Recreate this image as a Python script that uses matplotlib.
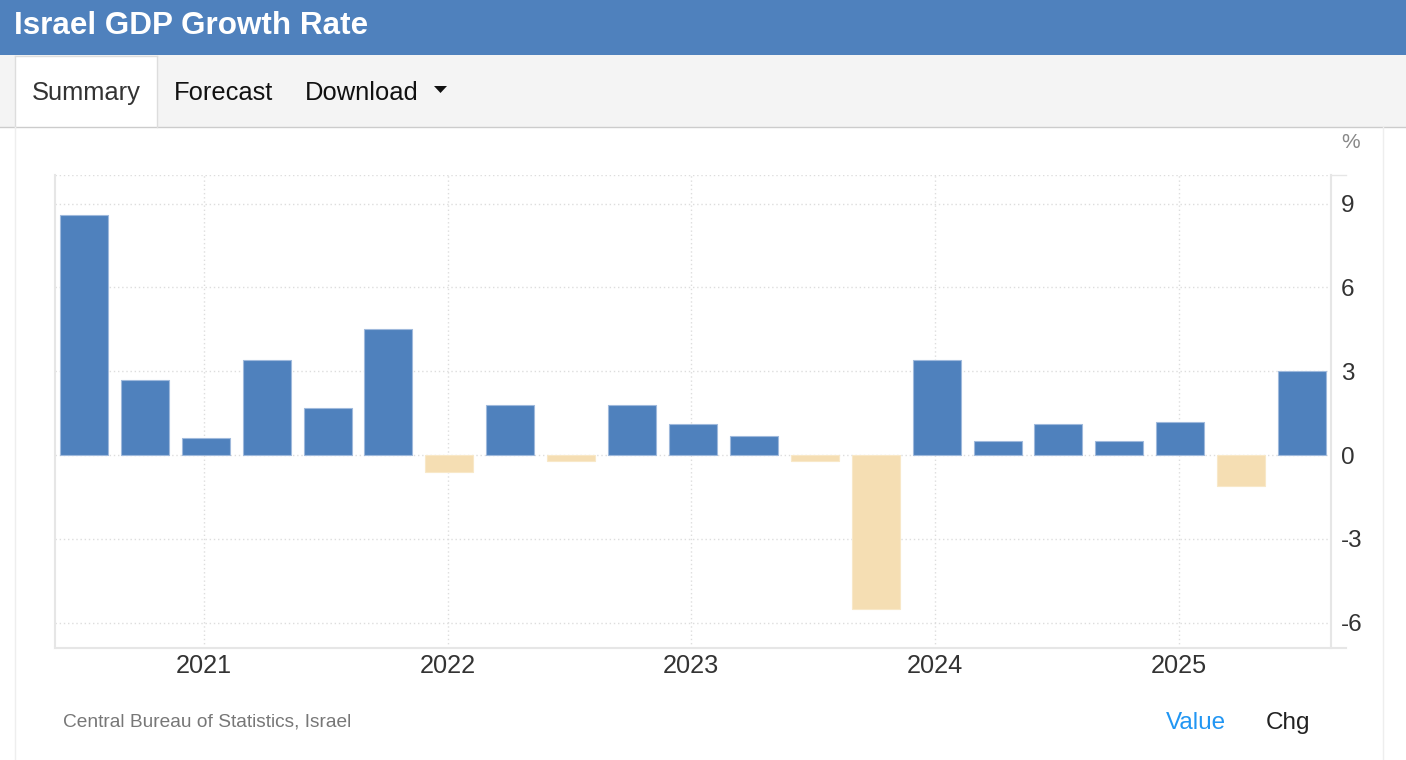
import matplotlib.pyplot as plt
from matplotlib.patches import Rectangle, Polygon
from matplotlib.lines import Line2D

plt.rcParams['font.family'] = ['Liberation Sans', 'DejaVu Sans']
plt.rcParams['axes.unicode_minus'] = False

# data: quarterly GDP growth rate (%), annualized q/q
years = [2020, 2020, 2021, 2021, 2021, 2021, 2022, 2022, 2022, 2022,
         2023, 2023, 2023, 2023, 2024, 2024, 2024, 2024, 2025, 2025, 2025]
quarters = [3, 4, 1, 2, 3, 4, 1, 2, 3, 4, 1, 2, 3, 4, 1, 2, 3, 4, 1, 2, 3]
values = [8.6, 2.7, 0.6, 3.4, 1.7, 4.5, -0.6, 1.8, -0.2, 1.8, 1.1,
          0.7, -0.2, -5.5, 3.4, 0.5, 1.1, 0.5, 1.2, -1.1, 3.0]
year_ticks = [2021, 2022, 2023, 2024, 2025]
y_ticks = [-6, -3, 0, 3, 6, 9]

W, H = 1406, 760
fig = plt.figure(figsize=(W / 100, H / 100), dpi=100)
fig.patch.set_facecolor('white')


def px(x, y):
    # pixel coords (top-left origin) -> figure fraction
    return x / W, 1 - y / H


def rect(x0, y0, x1, y1, **kw):
    fig.patches.append(Rectangle((x0 / W, 1 - y1 / H), (x1 - x0) / W, (y1 - y0) / H,
                                 transform=fig.transFigure, **kw))


def hline(x0, x1, y, color, lw=1):
    fig.lines.append(Line2D([x0 / W, x1 / W], [1 - y / H, 1 - y / H],
                            transform=fig.transFigure, color=color, lw=lw))


def vline(x, y0, y1, color, lw=1):
    fig.lines.append(Line2D([x / W, x / W], [1 - y0 / H, 1 - y1 / H],
                            transform=fig.transFigure, color=color, lw=lw))


# header bar
rect(0, 0, W, 55, facecolor='#4f81bd', edgecolor='none')
fig.text(*px(14, 26), 'Israel GDP Growth Rate', color='white', fontsize=22.6,
         fontweight='bold', va='center', ha='left')

# tab strip
rect(0, 55, W, 127, facecolor='#f4f4f4', edgecolor='none')
hline(0, W, 126.5, '#cccccc')
rect(15, 56, 157, 127.5, facecolor='white', edgecolor='none')
vline(15, 56, 127, '#dddddd')
vline(157, 56, 127, '#dddddd')
hline(15, 157, 56, '#dddddd')
fig.text(*px(32, 93), 'Summary', color='#333333', fontsize=18.4, va='center')
fig.text(*px(174, 93), 'Forecast', color='#111111', fontsize=18.4, va='center')
fig.text(*px(305, 93), 'Download', color='#111111', fontsize=18.4, va='center')
fig.patches.append(Polygon([px(434, 86), px(447, 86), px(440.5, 93)], closed=True,
                           transform=fig.transFigure, facecolor='#111111', edgecolor='none'))

# content borders
vline(15, 127, H, '#eeeeee')
vline(1383, 127, H, '#eeeeee')

# chart
ax = fig.add_axes([55 / W, 1 - 648 / H, (1331 - 55) / W, (648 - 175) / H])
x = [y + (q - 1) * 0.25 + 0.007 for y, q in zip(years, quarters)]
colors = ['#4f81bd' if v >= 0 else '#f5deb3' for v in values]
edges = ['#9fb9dc' if v >= 0 else '#f8e8c8' for v in values]
ax.bar(x, values, width=0.197, color=colors, edgecolor=edges, linewidth=0.8, zorder=3)

ax.set_xlim(2020.388, 2025.626)
ax.set_ylim(-6.9, 10.02)
ax.set_xticks(year_ticks)
ax.set_xticklabels([str(y) for y in year_ticks])
ax.set_yticks(y_ticks)
ax.yaxis.tick_right()
ax.tick_params(axis='both', length=0, labelcolor='#333333')
ax.tick_params(axis='x', pad=4, labelsize=18.2)
ax.tick_params(axis='y', pad=7, labelsize=17.5)
for lbl in ax.get_yticklabels():
    lbl.set_y(lbl.get_position()[1])
ax.grid(True, color='#dddddd', linestyle=(0, (1, 2)), linewidth=1, zorder=0)
ax.axhline(10.02, color='#dddddd', linestyle=(0, (1, 2)), linewidth=1, zorder=0)
for side in ['left', 'bottom', 'right']:
    ax.spines[side].set_color('#e6e6e6')
    ax.spines[side].set_linewidth(1.5)
ax.spines['top'].set_visible(False)

hline(1331, 1346, 175, '#e6e6e6')
hline(1331, 1346, 648, '#e6e6e6', lw=1.5)

fig.text(*px(1351, 143), '%', color='#888888', fontsize=15, ha='center', va='center')

# footer
fig.text(*px(63, 722), 'Central Bureau of Statistics, Israel', color='#777777',
         fontsize=13.8, va='center')
fig.text(*px(1196, 723), 'Value', color='#2196f3', fontsize=17.5, ha='center', va='center')
fig.text(*px(1288, 723), 'Chg', color='#222222', fontsize=17.5, ha='center', va='center')

fig.savefig('out.png', dpi=100)
